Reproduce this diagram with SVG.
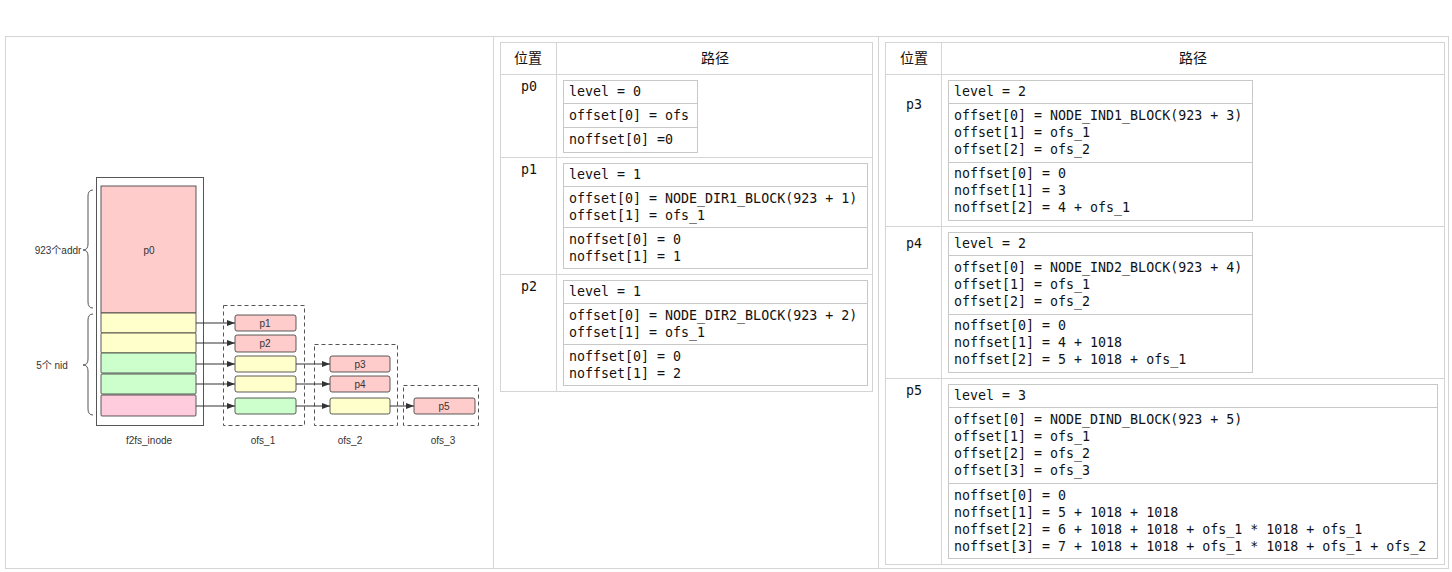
<svg xmlns="http://www.w3.org/2000/svg" width="1452" height="572" viewBox="0 0 1452 572">
<defs>
<marker id="ar" markerWidth="8" markerHeight="8" refX="8" refY="4" orient="auto" markerUnits="userSpaceOnUse"><path d="M0,1 L8,4 L0,7 Z" fill="#333"/></marker>
<style>
.tb{fill:none;stroke:#d4d4d4;stroke-width:1}
.ib{fill:none;stroke:#c8c8c8;stroke-width:1}
.m{font-family:"DejaVu Sans Mono","Liberation Mono",monospace;font-size:13.3px;fill:#111}
.h{font-family:"Noto Sans CJK SC","Noto Sans",sans-serif;font-size:14px;fill:#111;text-anchor:middle}
.rl{font-family:"DejaVu Sans Mono",monospace;font-size:13.3px;fill:#111;text-anchor:middle}
.s{font-family:"Liberation Sans","Noto Sans CJK SC",sans-serif;font-size:10px;fill:#333;text-anchor:middle}
.b{stroke:#333;stroke-width:0.8}
.r{fill:#ffcccc}.y{fill:#ffffcc}.g{fill:#ccffcc}.k{fill:#ffccdd}
.d{fill:none;stroke:#555;stroke-dasharray:4 3}
.c{stroke:#333;stroke-width:1;marker-end:url(#ar)}
</style>
</defs>
<rect width="1452" height="572" fill="#fff"/>
<rect class="tb" x="5.5" y="36.5" width="1443" height="532"/>
<line class="tb" x1="493.5" y1="36" x2="493.5" y2="568"/>
<line class="tb" x1="878.5" y1="36" x2="878.5" y2="568"/>

<g id="diagram">
<g id="inode">
<rect x="96.5" y="177.5" width="107" height="248" fill="none" stroke="#555"/>
<rect class="b r" x="101" y="186" width="95" height="127"/><text class="s" x="149" y="254">p0</text>
<rect class="b y" x="101" y="313" width="95" height="20" rx="1"/>
<rect class="b y" x="101" y="333" width="95" height="20" rx="1"/>
<rect class="b g" x="101" y="353" width="95" height="20" rx="1"/>
<rect class="b g" x="101" y="374" width="95" height="20" rx="1"/>
<rect class="b k" x="101" y="395" width="95" height="21" rx="1"/>
<text class="s" x="149" y="444">f2fs_inode</text>
</g>
<g id="braces" fill="none" stroke="#555">
<path d="M93,190 Q88,190 88,196 L88,244 Q88,250 83,250 Q88,250 88,256 L88,302 Q88,308 93,308"/>
<path d="M93,314 Q88,314 88,320 L88,359 Q88,365 83,365 Q88,365 88,371 L88,409 Q88,415 93,415"/>
</g>
<text class="s" x="58" y="254">923个addr</text>
<text class="s" x="52" y="369">5个 nid</text>
<g id="ofs1">
<rect class="d" x="223.5" y="305.5" width="81" height="120"/>
<rect class="b r" x="235" y="315" width="61" height="16" rx="2"/><text class="s" x="265" y="327">p1</text>
<rect class="b r" x="235" y="335" width="61" height="17" rx="2"/><text class="s" x="265" y="347">p2</text>
<rect class="b y" x="235" y="356" width="61" height="16" rx="2"/>
<rect class="b y" x="235" y="376" width="61" height="16" rx="2"/>
<rect class="b g" x="235" y="398" width="61" height="16" rx="2"/>
<text class="s" x="263" y="444">ofs_1</text>
</g>
<g id="ofs2">
<rect class="d" x="314.5" y="344.5" width="83" height="81"/>
<rect class="b r" x="330" y="356" width="60" height="16" rx="2"/><text class="s" x="360" y="368">p3</text>
<rect class="b r" x="330" y="376" width="60" height="16" rx="2"/><text class="s" x="360" y="388">p4</text>
<rect class="b y" x="330" y="398" width="60" height="16" rx="2"/>
<text class="s" x="350" y="444">ofs_2</text>
</g>
<g id="ofs3">
<rect class="d" x="403.5" y="385.5" width="75" height="40"/>
<rect class="b r" x="414" y="398" width="61" height="16" rx="2"/><text class="s" x="444" y="410">p5</text>
<text class="s" x="443" y="444">ofs_3</text>
</g>
<g id="connectors">
<line class="c" x1="196" y1="323" x2="235" y2="323"/>
<line class="c" x1="196" y1="343" x2="235" y2="343"/>
<line class="c" x1="196" y1="364" x2="235" y2="364"/>
<line class="c" x1="196" y1="384" x2="235" y2="384"/>
<line class="c" x1="196" y1="406" x2="235" y2="406"/>
<line class="c" x1="296" y1="364" x2="330" y2="364"/>
<line class="c" x1="296" y1="384" x2="330" y2="384"/>
<line class="c" x1="296" y1="406" x2="330" y2="406"/>
<line class="c" x1="390" y1="406" x2="414" y2="406"/>
</g>
</g>

<g id="table1">
<rect class="tb" x="500.5" y="42.5" width="372" height="349"/>
<line class="tb" x1="556.5" y1="42" x2="556.5" y2="391"/>
<line class="tb" x1="500" y1="74.5" x2="872" y2="74.5"/>
<line class="tb" x1="500" y1="157.5" x2="872" y2="157.5"/>
<line class="tb" x1="500" y1="274.5" x2="872" y2="274.5"/>
<text class="h" x="528" y="63">位置</text><text class="h" x="715" y="63">路径</text>
<text class="rl" x="529" y="91">p0</text>
<text class="rl" x="529" y="174">p1</text>
<text class="rl" x="529" y="291">p2</text>
<rect class="ib" x="563.5" y="80.5" width="134" height="72"/>
<line class="ib" x1="563" y1="103.5" x2="697" y2="103.5"/><line class="ib" x1="563" y1="127.5" x2="697" y2="127.5"/>
<text class="m" x="569" y="96">level = 0</text>
<text class="m" x="569" y="120">offset[0] = ofs</text>
<text class="m" x="569" y="144">noffset[0] =0</text>
<rect class="ib" x="563.5" y="163.5" width="304" height="105"/>
<line class="ib" x1="563" y1="186.5" x2="867" y2="186.5"/><line class="ib" x1="563" y1="227.5" x2="867" y2="227.5"/>
<text class="m" x="569" y="179">level = 1</text>
<text class="m" x="569" y="203">offset[0] = NODE_DIR1_BLOCK(923 + 1)</text>
<text class="m" x="569" y="220">offset[1] = ofs_1</text>
<text class="m" x="569" y="244">noffset[0] = 0</text>
<text class="m" x="569" y="261">noffset[1] = 1</text>
<rect class="ib" x="563.5" y="280.5" width="304" height="105"/>
<line class="ib" x1="563" y1="303.5" x2="867" y2="303.5"/><line class="ib" x1="563" y1="344.5" x2="867" y2="344.5"/>
<text class="m" x="569" y="296">level = 1</text>
<text class="m" x="569" y="320">offset[0] = NODE_DIR2_BLOCK(923 + 2)</text>
<text class="m" x="569" y="337">offset[1] = ofs_1</text>
<text class="m" x="569" y="361">noffset[0] = 0</text>
<text class="m" x="569" y="378">noffset[1] = 2</text>
</g>

<g id="table2">
<rect class="tb" x="885.5" y="42.5" width="559" height="522"/>
<line class="tb" x1="941.5" y1="42" x2="941.5" y2="564"/>
<line class="tb" x1="885" y1="74.5" x2="1444" y2="74.5"/>
<line class="tb" x1="885" y1="226.5" x2="1444" y2="226.5"/>
<line class="tb" x1="885" y1="378.5" x2="1444" y2="378.5"/>
<text class="h" x="914" y="63">位置</text><text class="h" x="1193" y="63">路径</text>
<text class="rl" x="914" y="109">p3</text>
<text class="rl" x="914" y="248">p4</text>
<text class="rl" x="914" y="395">p5</text>
<rect class="ib" x="948.5" y="80.5" width="304" height="140"/>
<line class="ib" x1="948" y1="103.5" x2="1252" y2="103.5"/><line class="ib" x1="948" y1="162.5" x2="1252" y2="162.5"/>
<text class="m" x="954" y="96">level = 2</text>
<text class="m" x="954" y="120">offset[0] = NODE_IND1_BLOCK(923 + 3)</text>
<text class="m" x="954" y="137">offset[1] = ofs_1</text>
<text class="m" x="954" y="154">offset[2] = ofs_2</text>
<text class="m" x="954" y="178">noffset[0] = 0</text>
<text class="m" x="954" y="195">noffset[1] = 3</text>
<text class="m" x="954" y="212">noffset[2] = 4 + ofs_1</text>
<rect class="ib" x="948.5" y="232.5" width="304" height="140"/>
<line class="ib" x1="948" y1="255.5" x2="1252" y2="255.5"/><line class="ib" x1="948" y1="314.5" x2="1252" y2="314.5"/>
<text class="m" x="954" y="248">level = 2</text>
<text class="m" x="954" y="272">offset[0] = NODE_IND2_BLOCK(923 + 4)</text>
<text class="m" x="954" y="289">offset[1] = ofs_1</text>
<text class="m" x="954" y="306">offset[2] = ofs_2</text>
<text class="m" x="954" y="330">noffset[0] = 0</text>
<text class="m" x="954" y="347">noffset[1] = 4 + 1018</text>
<text class="m" x="954" y="364">noffset[2] = 5 + 1018 + ofs_1</text>
<rect class="ib" x="948.5" y="384.5" width="489" height="174"/>
<line class="ib" x1="948" y1="407.5" x2="1437" y2="407.5"/><line class="ib" x1="948" y1="483.5" x2="1437" y2="483.5"/>
<text class="m" x="954" y="400">level = 3</text>
<text class="m" x="954" y="424">offset[0] = NODE_DIND_BLOCK(923 + 5)</text>
<text class="m" x="954" y="441">offset[1] = ofs_1</text>
<text class="m" x="954" y="458">offset[2] = ofs_2</text>
<text class="m" x="954" y="475">offset[3] = ofs_3</text>
<text class="m" x="954" y="500">noffset[0] = 0</text>
<text class="m" x="954" y="517">noffset[1] = 5 + 1018 + 1018</text>
<text class="m" x="954" y="534">noffset[2] = 6 + 1018 + 1018 + ofs_1 * 1018 + ofs_1</text>
<text class="m" x="954" y="551">noffset[3] = 7 + 1018 + 1018 + ofs_1 * 1018 + ofs_1 + ofs_2</text>
</g>
</svg>
